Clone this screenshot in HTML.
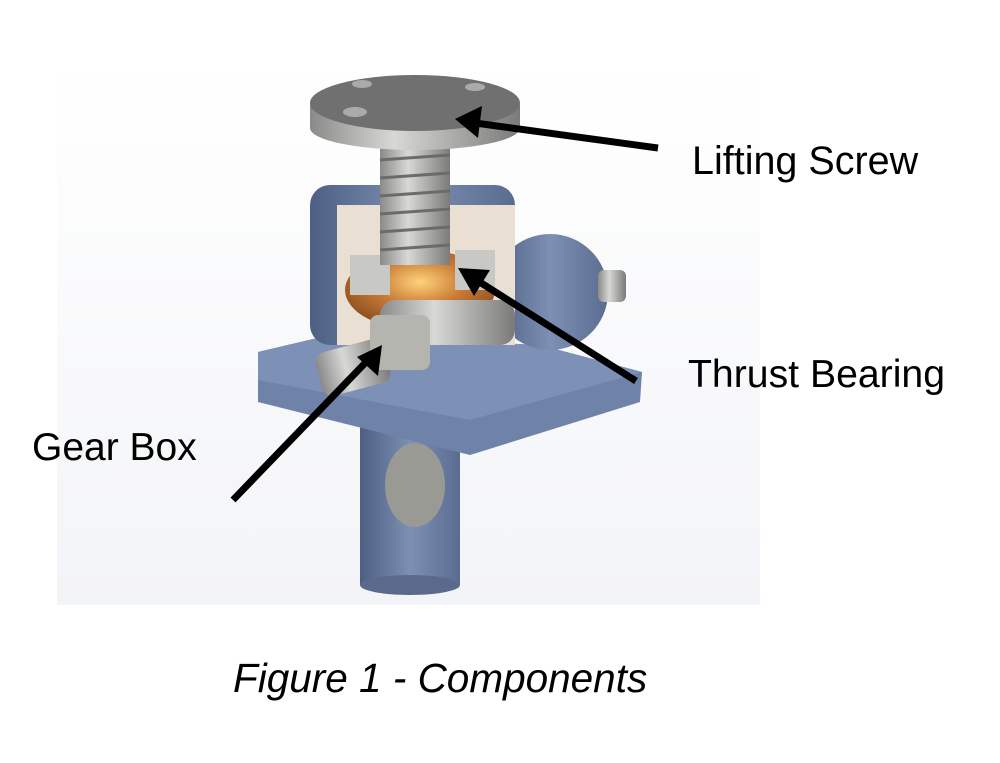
<!DOCTYPE html>
<html><head><meta charset="utf-8"><style>
html,body{margin:0;padding:0;background:#fff;}
body{width:1000px;height:763px;position:relative;overflow:hidden;font-family:"Liberation Sans",sans-serif;}
.t{position:absolute;font-size:38px;color:#000;white-space:nowrap;line-height:1;}
</style></head><body>
<svg width="1000" height="763" style="position:absolute;left:0;top:0">
<defs>
<linearGradient id="bg" x1="0" y1="0" x2="0" y2="1"><stop offset="0" stop-color="#fff"/><stop offset="1" stop-color="#f3f4f7"/></linearGradient>
<linearGradient id="steel" x1="0" x2="1"><stop offset="0" stop-color="#8a8a88"/><stop offset=".4" stop-color="#d8d8d6"/><stop offset="1" stop-color="#7a7a78"/></linearGradient>
<linearGradient id="blue" x1="0" x2="1"><stop offset="0" stop-color="#4d5f82"/><stop offset=".5" stop-color="#7d90b4"/><stop offset="1" stop-color="#5a6c8f"/></linearGradient>
<radialGradient id="bronze" cx=".5" cy=".4" r=".6"><stop offset="0" stop-color="#ffd27a"/><stop offset=".5" stop-color="#c87a35"/><stop offset="1" stop-color="#8a4e20"/></radialGradient>
</defs>
<rect x="57" y="60" width="703" height="545" fill="url(#bg)"/>
<rect x="360" y="395" width="100" height="190" fill="url(#blue)"/>
<ellipse cx="410" cy="585" rx="50" ry="10" fill="#5a6a8c"/>
<ellipse cx="415" cy="485" rx="30" ry="42" fill="#9a9a94"/>
<polygon points="258,352 330,335 540,345 642,372 640,402 470,455 258,402" fill="#6f82a8"/>
<polygon points="258,352 330,335 540,345 642,372 470,420 258,380" fill="#7d90b6"/>
<circle cx="550" cy="292" r="58" fill="url(#blue)"/>
<rect x="598" y="270" width="28" height="32" rx="6" fill="url(#steel)"/>
<rect x="310" y="185" width="205" height="160" rx="20" fill="url(#blue)"/>
<polygon points="337,205 515,205 515,345 337,345" fill="#e9dfd3"/>
<ellipse cx="420" cy="290" rx="75" ry="40" fill="url(#bronze)"/>
<rect x="350" y="255" width="40" height="40" fill="#c8c8c4"/>
<rect x="455" y="250" width="40" height="40" fill="#c8c8c4"/>
<rect x="380" y="300" width="135" height="45" rx="15" fill="url(#steel)"/>
<rect x="318" y="345" width="70" height="45" rx="10" fill="url(#steel)" transform="rotate(-15 353 367)"/>
<rect x="370" y="315" width="60" height="55" rx="8" fill="#b5b5b0"/>
<rect x="380" y="140" width="70" height="125" fill="url(#steel)"/>
<g stroke="#6b6b68" stroke-width="3">
<line x1="380" y1="160" x2="450" y2="155"/><line x1="380" y1="178" x2="450" y2="173"/><line x1="380" y1="196" x2="450" y2="191"/><line x1="380" y1="214" x2="450" y2="209"/><line x1="380" y1="232" x2="450" y2="227"/><line x1="380" y1="250" x2="450" y2="245"/>
</g>
<path d="M310,105 L310,128 A105,22 0 0 0 520,128 L520,105 Z" fill="url(#steel)"/>
<ellipse cx="415" cy="103" rx="105" ry="28" fill="#707070"/>
<ellipse cx="355" cy="112" rx="12" ry="5" fill="#aaa"/><ellipse cx="362" cy="84" rx="10" ry="4" fill="#aaa"/><ellipse cx="475" cy="87" rx="10" ry="4" fill="#aaa"/>
<g stroke="#000" stroke-width="7" fill="none">
<line x1="658" y1="148" x2="475" y2="123"/>
<line x1="636" y1="381" x2="478" y2="281"/>
<line x1="233" y1="500" x2="368" y2="360"/>
</g>
<polygon points="455,119 482,106 478,138" fill="#000"/>
<polygon points="458,268 490,270 474,296" fill="#000"/>
<polygon points="382,345 378,376 357,357" fill="#000"/>
</svg>
<div class="t" style="left:692px;top:142px;font-size:39.5px">Lifting Screw</div>
<div class="t" style="left:688px;top:355px;font-size:39.2px">Thrust Bearing</div>
<div class="t" style="left:32px;top:428px;font-size:39px">Gear Box</div>
<div class="t" style="left:233px;top:658px;font-style:italic;font-size:40.5px">Figure 1 - Components</div>
</body></html>
